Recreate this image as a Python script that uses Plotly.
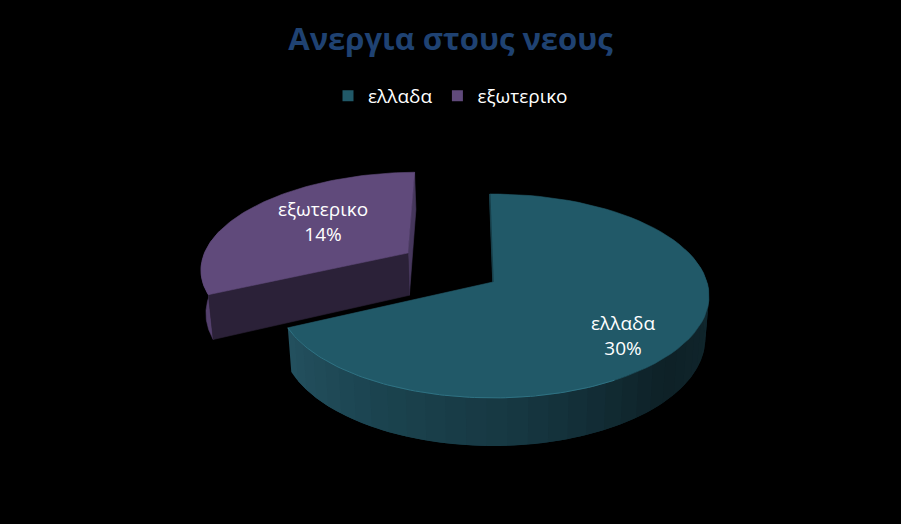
import math
import plotly.graph_objects as go

categories = ['ελλαδα', 'εξωτερικο']
values = [30, 14]

title = 'Ανεργια στους νεους'
top_colors = ['#215968', '#604A7B']
side_colors = ['#122F38', '#2B2138']

# perspective set up of the tilted pie, in page pixels
cx, cy = 493, 282
rx, ry = 214, 100
k = 0.137
base_scale = 0.983
start_angle = -1


def project(u, v, depth=0):
    s = 1 / (1 - k * v)
    x = cx + rx * u * s
    y = cy + ry * v * s + depth * s
    if depth:
        x = cx + (x - cx) * base_scale
    return x, y


def disc(angle, offset, depth=0, radius=1):
    a = math.radians(angle)
    return project(offset[0] + radius * math.sin(a), offset[1] - radius * math.cos(a), depth)


def arc(a0, a1, offset, depth=0, n=80, radius=1):
    pts = [disc(a0 + (a1 - a0) * i / n, offset, depth, radius) for i in range(n + 1)]
    return pts


def poly(fig, pts, color, line_color=None, line_width=0.6):
    fig.add_trace(go.Scatter(
        x=[p[0] for p in pts] + [pts[0][0]],
        y=[p[1] for p in pts] + [pts[0][1]],
        mode='lines', fill='toself', fillcolor=color,
        line=dict(color=line_color or color, width=line_width),
        hoverinfo='skip', showlegend=False,
    ))


def mix(c0, c1, t):
    a = [int(c0[i:i + 2], 16) for i in (1, 3, 5)]
    b = [int(c1[i:i + 2], 16) for i in (1, 3, 5)]
    return 'rgb({},{},{})'.format(*[round(a[i] + (b[i] - a[i]) * t) for i in range(3)])


fig = go.Figure()

total = sum(values)
split = start_angle + 360 * values[0] / total

# exploded slice goes first, the big one sits in front of it
offset = (-0.414, -0.302)
depth = 44
r = 0.99
a0, a1 = split, start_angle + 360
tip = project(*offset)
tip_low = project(*offset, depth)
poly(fig, [tip, disc(a1, offset, 0, r), disc(a1, offset, depth, r), tip_low], '#46375C')
poly(fig, arc(a0, a0 + 40, offset, radius=r) + arc(a0 + 40, a0, offset, depth, radius=r), '#54406D')
poly(fig, [tip, disc(a0, offset, 0, r), disc(a0, offset, depth, r), tip_low], side_colors[1])
poly(fig, [tip] + arc(a0, a1, offset, radius=r), top_colors[1])

# big slice: wall with a left to right shading
offset = (0, 0)
depth = 41.5
wall_stops = [(0, '#23505E'), (0.2, '#1B434F'), (0.4, '#163640'), (0.62, '#0E2127'), (1, '#122A31')]
wall_start, wall_end = split, 70
n = 36
for i in range(n):
    t = i / n
    for (t0, c0), (t1, c1) in zip(wall_stops, wall_stops[1:]):
        if t0 <= t <= t1:
            color = mix(c0, c1, (t - t0) / (t1 - t0))
            break
    b0 = wall_start + (wall_end - wall_start) * i / n
    # each band runs on under the next one so no seams show
    b1 = wall_start + (wall_end - wall_start) * (i + 2) / n if i < n - 1 else wall_end
    poly(fig, arc(b0, b1, offset, n=6) + arc(b1, b0, offset, depth, n=6), color, line_width=0)

tip = project(*offset)
poly(fig, [tip] + arc(start_angle, split, offset), top_colors[0])
rim = arc(split, 150, offset)
fig.add_trace(go.Scatter(
    x=[p[0] for p in rim], y=[p[1] for p in rim],
    mode='lines', line=dict(color='#2F7283', width=1),
    hoverinfo='skip', showlegend=False,
))
edge = [tip, disc(start_angle, offset)]
fig.add_trace(go.Scatter(
    x=[p[0] for p in edge], y=[p[1] for p in edge],
    mode='lines', line=dict(color='#173F4A', width=1.5),
    hoverinfo='skip', showlegend=False,
))

# legend entries
for name, color in zip(categories, top_colors):
    fig.add_trace(go.Scatter(
        x=[None], y=[None], name=name, mode='markers',
        marker=dict(symbol='square', size=11, color=color),
    ))

label_pos = [(623, 335), (323, 221)]
for name, val, (lx, ly) in zip(categories, values, label_pos):
    fig.add_annotation(
        x=lx, y=ly, text=f'{name}<br>{val}%', showarrow=False,
        font=dict(family='Open Sans', size=19, color='white'),
    )

fig.update_layout(
    title=dict(text=title, x=0.5, xanchor='center', y=0.925, yanchor='middle',
               font=dict(family='Open Sans', size=31, color='#1F4272', weight=700)),
    legend=dict(orientation='h', x=0.5, xanchor='center', y=0.817, yanchor='middle',
                font=dict(family='Open Sans', size=19, color='white'),
                bgcolor='rgba(0,0,0,0)'),
    width=901, height=524,
    margin=dict(l=0, r=0, t=0, b=0),
    paper_bgcolor='black', plot_bgcolor='black',
    xaxis=dict(range=[0, 901], visible=False, fixedrange=True),
    yaxis=dict(range=[524, 0], visible=False, fixedrange=True),
)

fig.write_html('out.html', config={'displayModeBar': False},
               post_script="document.body.style.margin='0';")
